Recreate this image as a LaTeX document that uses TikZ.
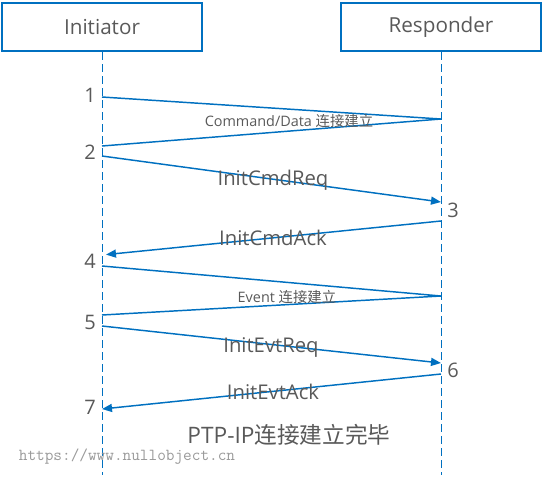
\documentclass[tikz,border=0pt]{standalone}
\usepackage{fontspec}
\setmainfont{Open Sans}
\newfontfamily\cjk{Noto Sans CJK SC}
\usetikzlibrary{arrows.meta}
\definecolor{msgblue}{HTML}{0070C0}
\definecolor{txtgray}{HTML}{595959}
\begin{document}
\begin{tikzpicture}[%
                x=0.75pt, y=-0.75pt,
                actor/.style={draw=msgblue, line width=1.6pt, minimum width=150pt, minimum height=36pt,
                              text=txtgray, font=\fontsize{15.5}{18}\selectfont},
                lifeline/.style={msgblue, line width=0.75pt, dash pattern=on 6pt off 3pt},
                msg/.style={msgblue, line width=1.1pt},
                call/.style={msg, -{Triangle[length=7.5pt, width=6pt]}},
                stepnum/.style={text=txtgray, font=\fontsize{15}{18}\selectfont},
                msglabel/.style={text=txtgray, font=\fontsize{15.2}{18}\selectfont},
                connlabel/.style={text=txtgray, font=\fontsize{10.8}{12}\selectfont}
            ]
            \useasboundingbox (0,0) rectangle (543,480);
            \node [actor] (ini) at (102,27) {Initiator};
            \node [actor] (res) at (441,27) {Responder};
            \draw [lifeline] (ini.south) -- (ini.south |- 0,475);
            \draw [lifeline] (res.south) -- (res.south |- 0,475);
            \foreach \pname/\py in {i1/97, i2/146, i3/156, i4/255, i5/266, i6/315, i7/326, i8/409}
                \coordinate (\pname) at (ini.south |- 0,\py);
            \foreach \pname/\py in {r1/119, r2/202, r3/221, r4/296, r5/363, r6/374}
                \coordinate (\pname) at (res.south |- 0,\py);
            \draw [msg] (i1) -- (r1) -- (i2);
            \draw [call] (i3) -- (r2);
            \draw [call, shorten >=3pt] (r3) -- (i4);
            \draw [msg] (i5) -- (r4) -- (i6);
            \draw [call] (i7) -- (r5);
            \draw [call] (r6) -- (i8);
            \foreach \n/\nx/\ny in {1/90/95, 2/90/152, 3/453/210, 4/90/261, 5/90/322, 6/453/370, 7/90/407}
                \node [stepnum] (n\n) at (\nx,\ny) {\n};
            \node [connlabel] (cmdconn) at (289,121) {Command/Data {\cjk 连接建立}};
            \node [msglabel] (cmdreq) at (273,180) {InitCmdReq};
            \node [msglabel] (cmdack) at (273,238) {InitCmdAck};
            \node [connlabel] (evtconn) at (287,297) {Event {\cjk 连接建立}};
            \node [msglabel] (evtreq) at (271,347) {InitEvtReq};
            \node [msglabel] (evtack) at (273,392) {InitEvtAck};
            \node [text=txtgray, font=\fontsize{17}{20}\selectfont] (done) at (289,435) {PTP-IP{\cjk 连接建立完毕}};
            \node [text=black!40, font=\ttfamily\fontsize{12.6}{14}\selectfont] (url) at (127,457) {https://www.nullobject.cn};
        \end{tikzpicture}
\end{document}
